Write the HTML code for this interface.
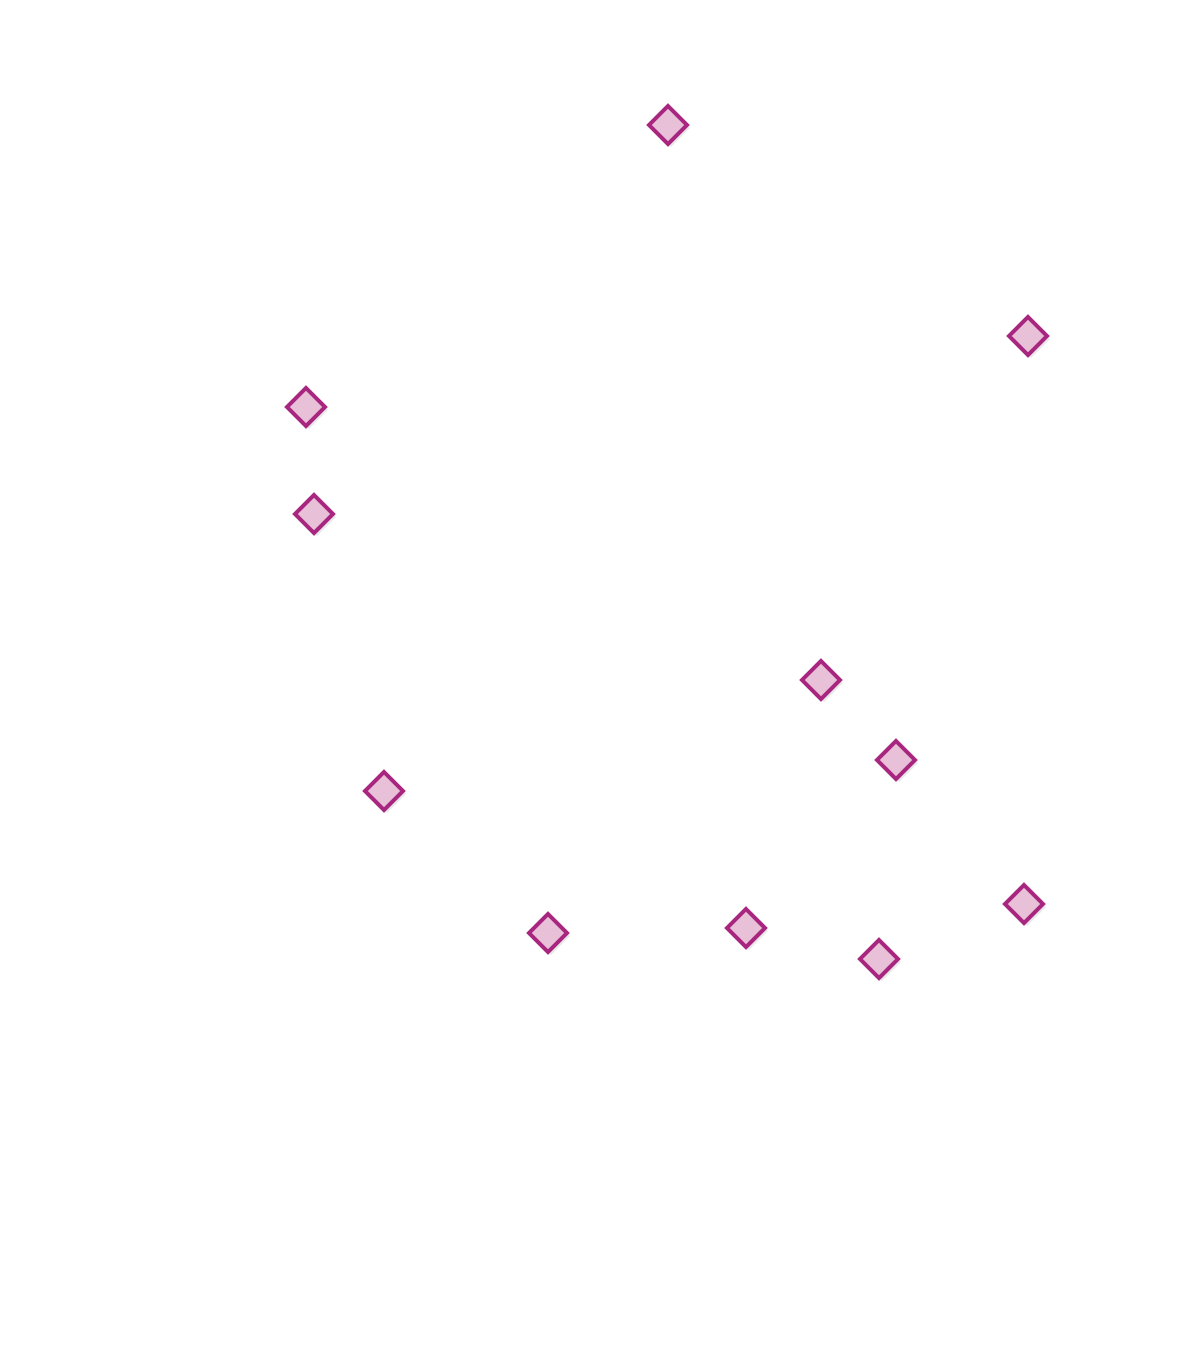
<!DOCTYPE html>
<html><head><meta charset="utf-8"><style>html,body{margin:0;padding:0;background:#fff;}</style></head>
<body>
<svg width="1200" height="1355" viewBox="0 0 1200 1355" xmlns="http://www.w3.org/2000/svg">
<defs>
<g id="d">
<polygon points="3,-16 22,3 3,22 -16,3" fill="#d9d9d9" opacity="0.6"/>
<polygon points="0,-19 19,0 0,19 -19,0" fill="#e8c1d8" stroke="#a8267f" stroke-width="4"/>
</g>
</defs>
<use href="#d" x="668" y="125"/>
<use href="#d" x="1028" y="336"/>
<use href="#d" x="306" y="407"/>
<use href="#d" x="314" y="514"/>
<use href="#d" x="821" y="680"/>
<use href="#d" x="896" y="760"/>
<use href="#d" x="384" y="791"/>
<use href="#d" x="548" y="933"/>
<use href="#d" x="746" y="928"/>
<use href="#d" x="879" y="959"/>
<use href="#d" x="1024" y="904"/>
</svg>
</body></html>
